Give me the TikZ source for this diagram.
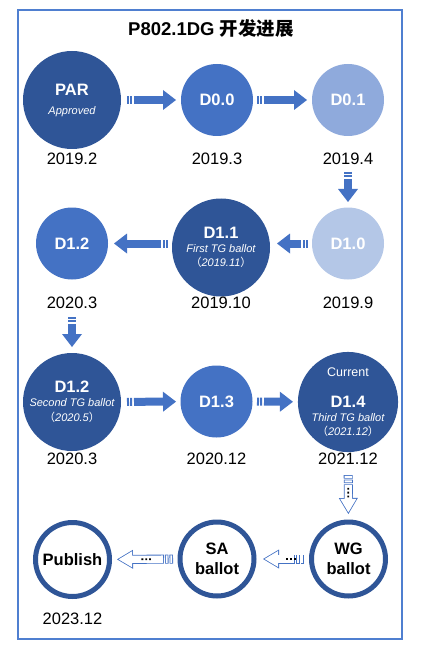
\documentclass[tikz,border=0pt]{standalone}
\usepackage{fontspec}
\setmainfont{Liberation Sans}
\newfontfamily\cjk{Noto Sans CJK SC}
\usetikzlibrary{arrows.meta}

\definecolor{dgdark}{HTML}{2F5597}
\definecolor{dgmid}{HTML}{4472C4}
\definecolor{dglight}{HTML}{8FAADC}
\definecolor{dgpale}{HTML}{B4C7E7}
\definecolor{dgframe}{HTML}{4F7FD0}

\tikzset{
  dg big/.style={circle, fill=dgdark, minimum size=98pt, inner sep=0pt, outer sep=0pt, text=white, align=center, font=\fontsize{16.5}{14}\selectfont\bfseries},
  dg small/.style={circle, fill=dgmid, minimum size=72pt, inner sep=0pt, outer sep=0pt, text=white, font=\fontsize{16.5}{14}\selectfont\bfseries},
  dg ring/.style={circle, draw=dgdark, line width=5pt, fill=white, minimum size=74pt, inner sep=0pt, outer sep=0pt, align=center, font=\fontsize{16.5}{19.5}\selectfont\bfseries},
  dg date/.style={font=\fontsize{16.5}{18}\selectfont, inner sep=0pt},
  dg title/.style={font=\fontsize{18.5}{20}\selectfont\bfseries},
  dg frame/.style={draw=dgframe, line width=1.3pt},
  dg edge/.style={draw=dgmid, line width=8pt, dash pattern=on 2pt off 1.2pt on 2pt off 1.8pt on 400pt, -{Triangle[width=20pt, length=13pt, line width=0pt]}},
  dg hollow/.style={draw=dgmid, line width=9pt, dash pattern=on 3.5pt off 1pt on 3.5pt off 1.2pt on 400pt, -{Triangle[width=19pt, length=16pt, line width=0pt]}},
  dg hollow core/.style={draw=white, line width=7.4pt, dash pattern=on 1.9pt off 2.6pt on 1.9pt off 2.8pt on 400pt, -{Triangle[width=16.2pt, length=13.6pt, line width=0pt]}},
}
\newcommand{\dgnote}{\fontsize{11}{14}\selectfont\mdseries\itshape}
\newcommand{\dgparen}[1]{{\cjk （}#1{\cjk ）}}
\newcommand{\dgdots}{\rule{1.8pt}{1.8pt}\hspace{2pt}\rule{1.8pt}{1.8pt}\hspace{2pt}\rule{1.8pt}{1.8pt}}
% outlined arrow: from, to, gap at tail, gap at tip, place of the dots
\newcommand{\dghollow}[5]{%
  \draw[dg hollow, shorten <=#3, shorten >=#4] (#1) -- (#2);
  \draw[dg hollow core, shorten <=#3+0.8pt, shorten >=#4+1.6pt] (#1) -- (#2)
    node[pos=#5, sloped, inner sep=0pt, text=black] {\dgdots};
}

\begin{document}
\begin{tikzpicture}[x=1pt, y=-1pt, node distance=59pt]
  \useasboundingbox (0,0) rectangle (420,660);
  \draw[dg frame] (18,10) rectangle (402,639);
  \node (title) [dg title] at (211,28) {P802.1DG {\cjk 开发进展}};

  % first row
  \node (par) [dg big] at (72,100) {PAR\\[5pt]{\dgnote Approved}};
  \node (d00) [dg small] at (217,100) {D0.0};
  \node (d01) [dg small, fill=dglight] at (348,100) {D0.1};
  \node (par date) [dg date, below of=par] {2019.2};
  \node (d00 date) [dg date, below of=d00] {2019.3};
  \node (d01 date) [dg date, below of=d01] {2019.4};

  % second row
  \node (d10) [dg small, fill=dgpale] at (348,243.5) {D1.0};
  \node (d11) [dg big] at (221,247.5) {D1.1\\{\dgnote First TG ballot}\\{\dgnote\dgparen{2019.11}}};
  \node (d12a) [dg small] at (72,243.5) {D1.2};
  \node (d10 date) [dg date, below of=d10] {2019.9};
  \node (d11 date) [dg date, below of=d11, yshift=4pt] {2019.10};
  \node (d12a date) [dg date, below of=d12a] {2020.3};

  % third row
  \node (d12b) [dg big] at (72,402) {D1.2\\{\dgnote Second TG ballot}\\[0.5pt]{\dgnote\dgparen{2020.5}}};
  \node (d13) [dg small] at (216.5,401.5) {D1.3};
  \node (d14) [dg big] at (348,402) {{\mdseries\fontsize{12.5}{14}\selectfont Current}\\[17.5pt]D1.4\\{\dgnote Third TG ballot}\\{\dgnote\dgparen{2021.12}}};
  \node (d12b date) [dg date, below of=d12b, yshift=2pt] {2020.3};
  \node (d13 date) [dg date, below of=d13, yshift=2pt] {2020.12};
  \node (d14 date) [dg date, below of=d14, yshift=2pt] {2021.12};

  % ballots
  \node (wg) [dg ring] at (348.5,559) {WG\\ballot};
  \node (sa) [dg ring] at (217,559) {SA\\ballot};
  \node (pub) [dg ring] at (72.5,559.5) {Publish};
  \node (pub date) [dg date, below of=pub] {2023.12};

  \draw[dg edge, shorten <=6pt, shorten >=5pt] (par) -- (d00);
  \draw[dg edge, shorten <=4pt, shorten >=5pt] (d00) -- (d01);
  \draw[dg edge, shorten <=36pt, shorten >=5.5pt] (d01) -- (d10);
  \draw[dg edge, shorten <=4pt, shorten >=7pt] (d10) -- (d11.east |- d10);
  \draw[dg edge, shorten <=4pt, shorten >=6pt] (d11.west |- d12a) -- (d12a);
  \draw[dg edge, shorten <=37.5pt, shorten >=6pt] (d12a) -- (d12b);
  \draw[dg edge, shorten <=6pt, shorten >=4.5pt] (d12b) -- (d13);
  \draw[dg edge, shorten <=4.5pt, shorten >=5pt] (d13) -- (d14);

  \dghollow{d14}{wg}{23pt}{8pt}{0.58}
  \dghollow{wg}{sa}{7.5pt}{9pt}{0.36}
  \dghollow{sa}{pub}{7pt}{7.5pt}{0.48}
\end{tikzpicture}
\end{document}
